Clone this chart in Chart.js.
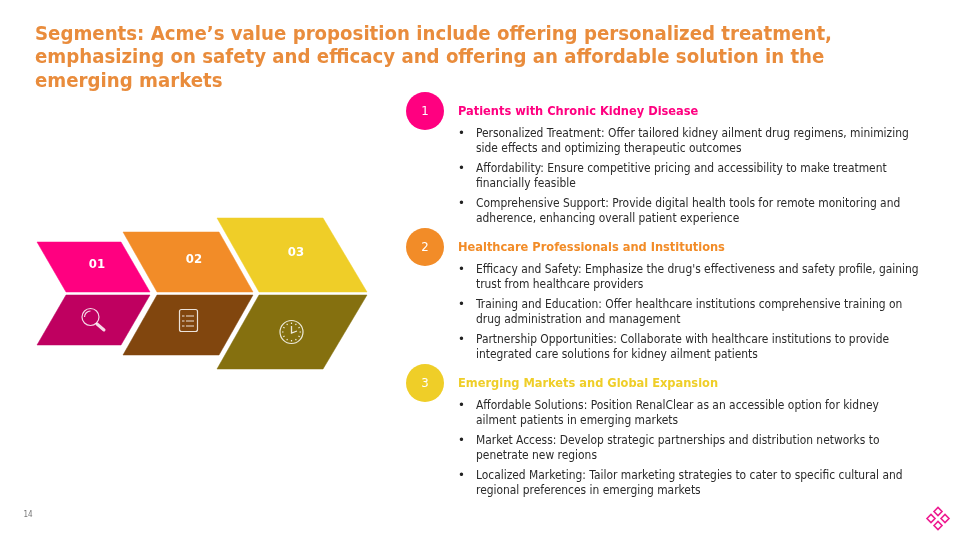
<!DOCTYPE html>
<html>
<head>
<meta charset="utf-8">
<style>
html,body{margin:0;padding:0;background:#fff;}
#wrap{width:960px;height:540px;position:relative;}
canvas{display:block;}
</style>
<script src="https://cdn.jsdelivr.net/npm/chart.js@4"></script>
</head>
<body>
<div id="wrap"><canvas id="slide" width="960" height="540"></canvas></div>
<script>
// slide texts
const titleLines = [
  'Segments: Acme’s value proposition include offering personalized treatment,',
  'emphasizing on safety and efficacy and offering an affordable solution in the',
  'emerging markets'
];
const titleY = [34, 57, 81];
const segmentNames = ['Patients with Chronic Kidney Disease', 'Healthcare Professionals and Institutions', 'Emerging Markets and Global Expansion'];
const segmentNumbers = ['1', '2', '3'];
const segmentY = [111, 247, 383];
const bulletLines = [
  ['Personalized Treatment: Offer tailored kidney ailment drug regimens, minimizing', 'side effects and optimizing therapeutic outcomes'],
  ['Affordability: Ensure competitive pricing and accessibility to make treatment', 'financially feasible'],
  ['Comprehensive Support: Provide digital health tools for remote monitoring and', 'adherence, enhancing overall patient experience'],
  ['Efficacy and Safety: Emphasize the drug\'s effectiveness and safety profile, gaining', 'trust from healthcare providers'],
  ['Training and Education: Offer healthcare institutions comprehensive training on', 'drug administration and management'],
  ['Partnership Opportunities: Collaborate with healthcare institutions to provide', 'integrated care solutions for kidney ailment patients'],
  ['Affordable Solutions: Position RenalClear as an accessible option for kidney', 'ailment patients in emerging markets'],
  ['Market Access: Develop strategic partnerships and distribution networks to', 'penetrate new regions'],
  ['Localized Marketing: Tailor marketing strategies to cater to specific cultural and', 'regional preferences in emerging markets']
];
const bulletY = [133, 168, 203, 269, 304, 339, 405, 440, 475];
const stepLabels = ['01', '02', '03'];
const stepLabelPos = [[97, 264], [194, 259], [296, 252]];

// chevron outlines
const topShapes = [
  [[37, 242], [121, 242], [150, 292], [66, 292]],
  [[123, 232], [219, 232], [253, 292], [157, 292]],
  [[217, 218], [323, 218], [367, 292], [259, 292]]
];
const bottomShapes = [
  [[66, 295], [150, 295], [121, 345], [37, 345]],
  [[157, 295], [253, 295], [219, 355], [123, 355]],
  [[259, 295], [367, 295], [323, 369], [217, 369]]
];
const topColors = ['#FF0080', '#F28C28', '#EFCE28'];
const bottomColors = ['#BF0060', '#81460E', '#85700F'];
const circleColors = ['#FF0080', '#F28C28', '#EFCE28'];
const logoRings = [[938, 511.5], [931, 518.5], [945, 518.5], [938, 525.5]];

const BODY = '"DejaVu Sans Condensed"';

function polygon(shape, color) {
  const pts = shape.concat([shape[0]]).map(p => ({x: p[0], y: p[1]}));
  return {type: 'line', data: pts, borderColor: color, borderWidth: 0.5, fill: false, pointRadius: 0, tension: 0, polyFill: color};
}

const datasets = [];
topShapes.forEach((s, i) => datasets.push(polygon(s, topColors[i])));
bottomShapes.forEach((s, i) => datasets.push(polygon(s, bottomColors[i])));
datasets.push({
  type: 'scatter',
  data: segmentY.map(y => ({x: 425, y: y})),
  backgroundColor: circleColors, borderWidth: 0, pointRadius: 19
});
datasets.push({
  type: 'scatter',
  data: logoRings.map(p => ({x: p[0], y: p[1]})),
  pointStyle: 'rectRot', backgroundColor: '#fff', borderColor: '#EE1A90', borderWidth: 1.6, pointRadius: 4
});

// line datasets only outline a closed shape, so fill it from the parsed points
const polyFill = {
  id: 'polyFill',
  beforeDatasetDraw(chart, args) {
    const color = chart.data.datasets[args.index].polyFill;
    if (!color) return;
    const c = chart.ctx;
    c.save();
    c.fillStyle = color;
    c.beginPath();
    args.meta.data.forEach((p, i) => i ? c.lineTo(p.x, p.y) : c.moveTo(p.x, p.y));
    c.closePath();
    c.fill();
    c.restore();
  }
};

const slideText = {
  id: 'slideText',
  afterDatasetsDraw(chart) {
    const c = chart.ctx, xs = chart.scales.x, ys = chart.scales.y;
    const px = x => xs.getPixelForValue(x), py = y => ys.getPixelForValue(y);
    const put = (t, x, y, font, color, align) => {
      c.font = font; c.fillStyle = color; c.textAlign = align || 'left'; c.textBaseline = 'middle';
      c.fillText(t, px(x), py(y));
    };
    c.save();
    titleLines.forEach((t, i) => put(t, 35, titleY[i] + 1, 'bold 20.2px ' + BODY, '#E98C3C'));
    segmentNames.forEach((t, i) => {
      put(t, 458, segmentY[i] + 1, 'bold 12.7px ' + BODY, circleColors[i]);
      put(segmentNumbers[i], 425, segmentY[i] + 1, '13px ' + BODY, '#fff', 'center');
    });
    bulletLines.forEach((pair, i) => {
      put('•', 458, bulletY[i] + 1, '13px ' + BODY, '#222');
      put(pair[0], 476, bulletY[i] + 1, '11.9px ' + BODY, '#2a2a2a');
      put(pair[1], 476, bulletY[i] + 15.5, '11.9px ' + BODY, '#2a2a2a');
    });
    stepLabels.forEach((t, i) => put(t, stepLabelPos[i][0], stepLabelPos[i][1] + 1, 'bold 13px ' + BODY, '#fff', 'center'));
    put('14', 28, 515, '8px ' + BODY, '#777', 'center');

    // icons
    c.strokeStyle = 'rgba(255,255,255,.85)';
    c.lineWidth = 1.2;
    c.beginPath(); c.arc(px(90.5), py(317), 8.5, 0, 2 * Math.PI); c.stroke();
    c.beginPath(); c.arc(px(90.5), py(317), 6, Math.PI, 1.5 * Math.PI); c.stroke();
    c.lineWidth = 3; c.lineCap = 'round';
    c.beginPath(); c.moveTo(px(97), py(324)); c.lineTo(px(104), py(330)); c.stroke();
    c.lineWidth = 1.2; c.lineCap = 'butt';
    c.beginPath(); c.roundRect(px(179.5), py(309.5), 18, 22, 2); c.stroke();
    [316, 321, 326].forEach(y => {
      c.beginPath(); c.moveTo(px(186), py(y)); c.lineTo(px(194), py(y)); c.moveTo(px(182), py(y)); c.lineTo(px(184.5), py(y)); c.stroke();
    });
    c.lineWidth = 1.2;
    c.beginPath(); c.arc(px(291.5), py(332), 11.5, 0, 2 * Math.PI); c.stroke();
    for (let h = 0; h < 12; h++) {
      const a = h * Math.PI / 6;
      c.beginPath();
      c.moveTo(px(291.5 + 8 * Math.cos(a)), py(332 + 8 * Math.sin(a)));
      c.lineTo(px(291.5 + 9.5 * Math.cos(a)), py(332 + 9.5 * Math.sin(a)));
      c.stroke();
    }
    c.lineWidth = 1.3;
    c.beginPath(); c.moveTo(px(291.5), py(326)); c.lineTo(px(291.5), py(333)); c.lineTo(px(297), py(331)); c.stroke();
    c.restore();
  }
};

new Chart(document.getElementById('slide'), {
  data: {datasets},
  options: {
    responsive: false,
    animation: false,
    layout: {padding: 0, autoPadding: false},
    plugins: {legend: {display: false}, tooltip: {enabled: false}},
    scales: {
      x: {type: 'linear', min: 0, max: 960, display: false},
      y: {type: 'linear', min: 0, max: 540, reverse: true, display: false}
    }
  },
  plugins: [polyFill, slideText]
});
</script>
</body>
</html>
